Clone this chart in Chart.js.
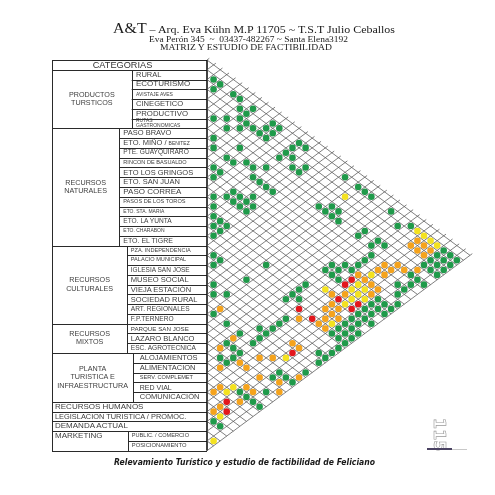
<!DOCTYPE html>
<html><head><meta charset="utf-8">
<script src="https://cdn.jsdelivr.net/npm/chart.js@4.4.0/dist/chart.umd.min.js"></script>
<style>
html,body{margin:0;padding:0;background:#fff;}
#wrap{position:relative;width:495px;height:495px;overflow:hidden;background:#fff;}
canvas{position:absolute;left:0;top:0;}
.t{position:absolute;white-space:nowrap;line-height:1;transform-origin:0 0;color:#1a1a1a;font-family:"Liberation Serif","Times New Roman",serif;}
.lab{position:absolute;display:flex;align-items:center;white-space:nowrap;font-family:"Liberation Sans",Arial,sans-serif;color:#404040;line-height:1;}
.grp{position:absolute;display:flex;align-items:center;justify-content:center;text-align:center;font-family:"Liberation Sans",Arial,sans-serif;color:#404040;line-height:1.15;}
</style></head><body>
<div id="wrap"><canvas id="c" width="495" height="495"></canvas></div>
<script>
// ---------------- DATA ----------------
const headerLabel = 'CATEGORIAS';
const categories = [
 'RURAL','ECOTURISMO','AVISTAJE AVES','CINEGETICO','PRODUCTIVO','RUTAS GASTRONOMICAS',
 'PASO BRAVO','ETO. MIÑO / BENITEZ','PTE. GUAYQUIRARO','RINCON DE BASUALDO','ETO LOS GRINGOS','ETO. SAN JUAN',
 'PASO CORREA','PASOS DE LOS TOROS','ETO. STA. MARIA','ETO. LA YUNTA','ETO. CHARABON','ETO. EL TIGRE',
 'PZA. INDEPENDENCIA','PALACIO MUNICIPAL','IGLESIA SAN JOSE','MUSEO SOCIAL','VIEJA ESTACIÓN','SOCIEDAD RURAL',
 'ART. REGIONALES','F.P.TERNERO',
 'PARQUE SAN JOSE','LAZARO BLANCO','ESC. AGROTECNICA',
 'ALOJAMIENTOS','ALIMENTACION','SERV. COMPLEMET','RED VIAL','COMUNICACIÓN',
 'RECURSOS HUMANOS','LEGISLACION TURISTICA / PROMOC.','DEMANDA ACTUAL',
 'PUBLIC. / COMERCIO','POSICIONAMIENTO'
];
const groupNames = ['PRODUCTOS\nTURSTICOS','RECURSOS\nNATURALES','RECURSOS\nCULTURALES','RECURSOS\nMIXTOS',
 'PLANTA\nTURISTICA E\nINFRAESTRUCTURA', null, null, null, 'MARKETING'];
const groupRows = [[1,6],[7,18],[19,26],[27,29],[30,34],[35,35],[36,36],[37,37],[38,39]];

// pairs of category rows (1-based) that interact, by level
const greenPairs = [
 [1,2],[1,3],[2,3],[1,5],[1,6],[2,7],[1,8],[2,8],[5,6],[4,7],[3,8],[3,9],[1,11],[1,12],[5,8],[4,9],[3,10],[3,11],
 [2,11],[2,12],[3,12],[7,8],[1,15],[2,15],[3,15],[1,16],[8,9],[6,11],[4,15],[3,16],[8,11],[8,12],[7,13],[7,14],
 [6,15],[4,17],[3,18],[4,18],[10,11],[10,12],[11,12],[8,15],[8,16],[1,22],
 [8,17],[8,18],[11,15],[12,15],[11,16],[10,17],[13,14],[12,16],[11,17],[12,17],[11,18],[12,18],[14,15],[15,16],
 [15,17],[15,18],[16,17],[16,18],[17,18],[19,20],[19,21],[20,21],[16,25],[19,25],[22,23],[23,24],[22,25],
 [6,23],[6,24],[5,24],[5,25],[6,25],[6,26],[1,24],[1,25],[1,26],
 [6,29],[5,29],[6,31],[5,31],[5,32],[7,32],[8,32],[12,30],[11,30],[11,31],[10,31],[9,32],[10,32],[12,31],[12,32],
 [11,37],[16,30],[17,30],[17,31],[18,30],[15,30],[20,32],[12,37],[11,38],[12,38],[11,39],[12,39],[13,37],[15,37],
 [14,37],[16,37],[15,38],[14,38],[14,39],[17,37],[16,38],[18,37],[17,38],[16,39],[18,38],[17,39],
 [1,29],[1,32],[2,31],[2,37],[1,37],[1,38],[3,37],[2,38],[1,39],[3,38],[4,37],[2,39],[4,38],[3,39],[4,39],
 [6,37],[6,38],[6,39],[7,38],[8,37],[8,38],[9,38],[10,39],[13,38],
 [25,26],[25,28],[25,30],[23,31],[23,32],[22,32],[21,32],[24,32],[25,32],[27,31],[27,30],[27,32],[29,31],[29,32],
 [28,32],[21,38],[21,39],[20,39],[22,39],[19,39],[18,39],[26,37],[26,38],[26,39],[24,39],[27,37],[29,38],[31,39],
 [31,38],[31,37],[31,36],[36,37],[36,38]
];
const yellowPairs = [
 [3,24],[1,33],[1,34],[1,35],[1,36],[9,34],[12,34],[11,34],[11,35],[14,32],[12,35],[12,36],[13,35],[14,35],
 [17,36],[24,36],[31,35],[32,35],[35,37],[38,39]
];
const orangePairs = [
 [2,34],[2,35],[3,34],[3,35],[2,36],[3,36],[7,34],[8,34],[7,35],[6,35],[6,36],[8,35],[5,37],[10,33],[10,34],
 [10,35],[10,36],[14,33],[11,36],[13,34],[15,34],[15,35],[16,34],[19,33],[16,35],[16,36],[17,35],[18,35],[18,36],
 [22,35],[24,26],[26,30],[28,30],[28,33],[28,34],[26,34],[25,35],[22,36],[30,32],[25,39],[28,36],[27,38],[28,39],
 [30,37],[30,36],[32,34],[33,34],[32,37],[34,36],[35,36]
];
const redPairs = [[11,33],[12,33],[14,34],[13,36],[14,36],[18,32],[18,34],[23,36],[33,36],[34,37]];

// ---------------- STYLE ----------------
const rowFontPx = [7.5,8,5,7.6,7.8,5, 7.5,7.5,6.6,5.6,7.5,7.5,8,5.6,5,6.6,5,7, 5.6,5.6,6.5,7.6,7.5,7.5,6.6,6.6,
 6.2,7.6,6.6, 7.5,7.5,5.6,7,7.5, 8,7.4,8, 5.6,5.8];
const groupSubX = [131.7,119.3,127.3,127.3,133.3,null,null,null,128.3];
const groupPad = [4.3,4,3.5,3.5,6.5,3,3,3,3.5];
const COLORS = {green:'#1f9a4a', yellow:'#f4e21f', orange:'#f5a31c', red:'#e3161c'};

const NROWS = categories.length + 1; // + header row
const toPoints = pairs => pairs.map(([i,j]) => ({x: j - i, y: (i + j + 1) / 2}));

const lattice = [];
for (let k = 0; k <= NROWS; k++) {
  lattice.push({data:[{x:0,y:k},{x:NROWS-k,y:(NROWS+k)/2}], showLine:true, pointRadius:0,
    borderColor:'#555', borderWidth:0.75, clip:false});
  const e = 0.35;
  lattice.push({data:[{x:0,y:k},{x:k+e,y:k/2-e/2}], showLine:true, pointRadius:0,
    borderColor:'#555', borderWidth:0.75, clip:false});
}
const dotDs = (pairs,color) => ({data:toPoints(pairs), pointRadius:3.3, pointBackgroundColor:color,
  pointBorderWidth:0, pointBorderColor:color, showLine:false, clip:false});

const L = 52;
const tablePlugin = {
  id:'table',
  beforeDatasetsDraw(chart){
    const ctx = chart.ctx, ys = chart.scales.y, xs = chart.scales.x;
    const yp = k => Math.round(ys.getPixelForValue(k)) + 0.5;
    const R = xs.getPixelForValue(0);
    const h = (x1,x2,y) => {ctx.beginPath();ctx.moveTo(x1,y);ctx.lineTo(x2,y);ctx.stroke();};
    const v = (x,y1,y2) => {ctx.beginPath();ctx.moveTo(x,y1);ctx.lineTo(x,y2);ctx.stroke();};
    ctx.save();
    ctx.strokeStyle = '#2a2a2a'; ctx.lineWidth = 1;
    h(L, R, yp(0)); h(L, R, yp(1)); h(L, R, yp(NROWS));
    v(L + 0.5, yp(0), yp(NROWS));
    groupRows.forEach(([a,b], g) => {
      h(L, R, yp(b + 1));
      const sx = groupSubX[g];
      if (sx != null) {
        v(Math.round(sx) + 0.5, yp(a), yp(b + 1));
        for (let r = a + 1; r <= b; r++) h(sx, R, yp(r));
      }
    });
    ctx.lineWidth = 1.6; ctx.strokeStyle = '#111';
    v(R, ys.getPixelForValue(0), ys.getPixelForValue(NROWS));
    ctx.restore();
  }
};

const chart = new Chart(document.getElementById('c').getContext('2d'), {
  type:'scatter',
  data:{datasets:[...lattice, dotDs(greenPairs,COLORS.green), dotDs(yellowPairs,COLORS.yellow),
    dotDs(orangePairs,COLORS.orange), dotDs(redPairs,COLORS.red)]},
  options:{
    responsive:false, animation:false, devicePixelRatio:1, events:[],
    layout:{padding:{left:207, right:25, top:60, bottom:44.3}},
    scales:{
      x:{type:'linear', min:0, max:NROWS, display:false},
      y:{type:'linear', min:0, max:NROWS, reverse:true, display:false}
    },
    plugins:{legend:{display:false}, tooltip:{enabled:false}, title:{display:false}}
  },
  plugins:[tablePlugin]
});

// ---------------- TEXT (HTML) ----------------
const wrap = document.getElementById('wrap');
const ys = chart.scales.y, xs = chart.scales.x;
const yp = k => ys.getPixelForValue(k);
const R = xs.getPixelForValue(0);
function add(cls, html, css){ const d=document.createElement('div'); d.className=cls; d.innerHTML=html; Object.assign(d.style, css); wrap.appendChild(d); return d; }
function fit(el, w){ const r = w / el.getBoundingClientRect().width; el.style.transform = 'scaleX(' + r + ')'; }

// header cell
add('grp', headerLabel, {left:L+'px', width:(R-L)+'px', top:yp(0)+'px', height:(yp(1)-yp(0))+'px', fontSize:'9.2px', color:'#333', transform:'translateX(-7px)'});

groupRows.forEach(([a,b], g) => {
  const sx = groupSubX[g];
  if (sx != null) {
    const name = groupNames[g];
    if (name === 'MARKETING') {
      add('lab', name, {left:(L+3)+'px', top:yp(a)+'px', height:(yp(a+1)-yp(a))+'px', fontSize:'8px'});
    } else {
      add('grp', name.replace(/\n/g,'<br>'), {left:L+'px', width:(sx-L)+'px', top:yp(a)+'px', height:(yp(b+1)-yp(a))+'px', fontSize:'7.2px'});
    }
    for (let r = a; r <= b; r++) {
      let txt = categories[r-1];
      if (txt === 'RUTAS GASTRONOMICAS') txt = 'RUTAS<br>GASTRONOMICAS';
      if (txt === 'ETO. MIÑO / BENITEZ') txt = 'ETO. MIÑO /&nbsp;<span style="font-size:5px">BENITEZ</span>';
      add('lab', txt, {left:(sx+groupPad[g])+'px', top:yp(r)+'px', height:(yp(r+1)-yp(r))+'px', fontSize:rowFontPx[r-1]+'px'});
    }
  } else {
    add('lab', categories[a-1], {left:(L+groupPad[g])+'px', top:yp(a)+'px', height:(yp(a+1)-yp(a))+'px', fontSize:rowFontPx[a-1]+'px'});
  }
});

// titles
const t1 = add('t', '<span style="font-size:14px">A&amp;T</span><span style="font-size:10.5px"> – Arq. Eva Kühn M.P 11705 ~ T.S.T Julio Ceballos</span>', {left:'112.7px', top:'20px'});
fit(t1, 282);
const t2 = add('t', 'Eva Perón 345&nbsp; ~&nbsp; 03437-482267 ~ Santa Elena3192', {left:'149px', top:'34.5px', fontSize:'8.6px'});
fit(t2, 199);
const t3 = add('t', 'MATRIZ Y ESTUDIO DE FACTIBILIDAD', {left:'160px', top:'42.5px', fontSize:'8.6px'});
fit(t3, 172);
const f1 = add('t', 'Relevamiento Turístico y estudio de factibilidad de Feliciano', {left:'114px', top:'459px', fontSize:'8px', fontFamily:'"DejaVu Sans",sans-serif', fontWeight:'bold', fontStyle:'italic', color:'#1a1a1a'});
fit(f1, 261);
add('t', '115', {left:'447px', top:'418px', fontSize:'16px', fontFamily:'"DejaVu Sans",sans-serif', fontWeight:'bold', color:'transparent', webkitTextStroke:'0.6px #999', transform:'rotate(90deg)', transformOrigin:'0 0'});
add('t', '', {left:'426.7px', top:'447.7px', width:'25px', height:'2.6px', background:'#4a4262'});
add('t', '', {left:'451.7px', top:'448.6px', width:'15px', height:'1px', background:'#c8c8c8'});
</script>
</body></html>
